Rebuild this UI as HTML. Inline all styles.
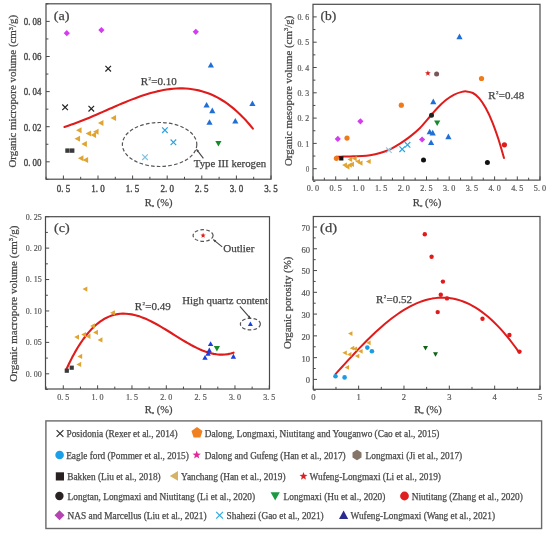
<!DOCTYPE html>
<html><head><meta charset="utf-8"><style>
html,body{margin:0;padding:0;background:#fff;}
svg{display:block;font-family:"Liberation Serif", "Times New Roman", serif;}
</style></head><body>
<svg width="550" height="535" viewBox="0 0 550 535">
<rect width="550" height="535" fill="#fff"/>
<rect x="46" y="3.8" width="225" height="175.4" fill="none" stroke="#4a4a4a" stroke-width="1.2"/>
<path d="M63.4 179.2V175.5M98 179.2V175.5M132.6 179.2V175.5M167.2 179.2V175.5M201.8 179.2V175.5M236.4 179.2V175.5M271 179.2V175.5M46.1 179.2V176.8M80.7 179.2V176.8M115.3 179.2V176.8M149.9 179.2V176.8M184.5 179.2V176.8M219.1 179.2V176.8M253.7 179.2V176.8" stroke="#4a4a4a" stroke-width="1"/>
<text x="63.4" y="191.8" font-size="9.4" text-anchor="middle" fill="#454545" stroke="#454545" stroke-width="0.35" textLength="13.5" lengthAdjust="spacingAndGlyphs">0. 5</text>
<text x="98" y="191.8" font-size="9.4" text-anchor="middle" fill="#454545" stroke="#454545" stroke-width="0.35" textLength="13.5" lengthAdjust="spacingAndGlyphs">1. 0</text>
<text x="132.6" y="191.8" font-size="9.4" text-anchor="middle" fill="#454545" stroke="#454545" stroke-width="0.35" textLength="13.5" lengthAdjust="spacingAndGlyphs">1. 5</text>
<text x="167.2" y="191.8" font-size="9.4" text-anchor="middle" fill="#454545" stroke="#454545" stroke-width="0.35" textLength="13.5" lengthAdjust="spacingAndGlyphs">2. 0</text>
<text x="201.8" y="191.8" font-size="9.4" text-anchor="middle" fill="#454545" stroke="#454545" stroke-width="0.35" textLength="13.5" lengthAdjust="spacingAndGlyphs">2. 5</text>
<text x="236.4" y="191.8" font-size="9.4" text-anchor="middle" fill="#454545" stroke="#454545" stroke-width="0.35" textLength="13.5" lengthAdjust="spacingAndGlyphs">3. 0</text>
<text x="271" y="191.8" font-size="9.4" text-anchor="middle" fill="#454545" stroke="#454545" stroke-width="0.35" textLength="13.5" lengthAdjust="spacingAndGlyphs">3. 5</text>
<path d="M46 161.8H49.7M46 126.7H49.7M46 91.6H49.7M46 56.5H49.7M46 21.4H49.7M46 144.25H48.4M46 109.15H48.4M46 74.05H48.4M46 38.95H48.4M46 3.85H48.4M46 179.35H48.4" stroke="#4a4a4a" stroke-width="1"/>
<text x="41.5" y="165.6" font-size="9.8" text-anchor="end" fill="#454545" stroke="#454545" stroke-width="0.35" textLength="17.8" lengthAdjust="spacingAndGlyphs">0. 00</text>
<text x="41.5" y="130.5" font-size="9.8" text-anchor="end" fill="#454545" stroke="#454545" stroke-width="0.35" textLength="17.8" lengthAdjust="spacingAndGlyphs">0. 02</text>
<text x="41.5" y="95.4" font-size="9.8" text-anchor="end" fill="#454545" stroke="#454545" stroke-width="0.35" textLength="17.8" lengthAdjust="spacingAndGlyphs">0. 04</text>
<text x="41.5" y="60.3" font-size="9.8" text-anchor="end" fill="#454545" stroke="#454545" stroke-width="0.35" textLength="17.8" lengthAdjust="spacingAndGlyphs">0. 06</text>
<text x="41.5" y="25.2" font-size="9.8" text-anchor="end" fill="#454545" stroke="#454545" stroke-width="0.35" textLength="17.8" lengthAdjust="spacingAndGlyphs">0. 08</text>
<text x="0" y="0" font-size="10.9" text-anchor="middle" fill="#444" stroke="#444" stroke-width="0.25" transform="translate(16.3 91.2) rotate(-90)">Organic micropore volume (cm<tspan font-size="60%" dy="-0.55em">3</tspan><tspan dy="0.33em">/g)</tspan></text>
<text x="158.6" y="206" font-size="10.5" text-anchor="middle" fill="#444" stroke="#444" stroke-width="0.25" >R<tspan font-size="45%" dy="0.3em">o</tspan><tspan dy="-0.135em"> (%)</tspan></text>
<text x="61.6" y="20" font-size="13.5" text-anchor="middle" fill="#444" stroke="#444" stroke-width="0.25" textLength="15.8" lengthAdjust="spacingAndGlyphs">(a)</text>
<polygon points="66.8,30.1 69.9,33.2 66.8,36.3 63.7,33.2" fill="#d43cf0"/>
<polygon points="101.4,27 104.5,30.1 101.4,33.2 98.3,30.1" fill="#d43cf0"/>
<polygon points="195.8,28.7 198.9,31.8 195.8,34.9 192.7,31.8" fill="#d43cf0"/>
<path d="M105.4 65.9L111 71.5M105.4 71.5L111 65.9" stroke="#222" stroke-width="1.15" fill="none"/>
<path d="M62.3 104.5L67.9 110.1M62.3 110.1L67.9 104.5" stroke="#222" stroke-width="1.15" fill="none"/>
<path d="M88.5 105.9L94.1 111.5M88.5 111.5L94.1 105.9" stroke="#222" stroke-width="1.15" fill="none"/>
<rect x="65.3" y="148.4" width="4.4" height="4.4" fill="#3a3a3a"/>
<rect x="70" y="148.4" width="4.4" height="4.4" fill="#3a3a3a"/>
<polygon points="76,130.2 81.55,127.2 81.55,133.2" fill="#e0a431"/>
<polygon points="85.6,133.5 91.15,130.5 91.15,136.5" fill="#e0a431"/>
<polygon points="90.5,135.1 96.05,132.1 96.05,138.1" fill="#e0a431"/>
<polygon points="93,131.8 98.55,128.8 98.55,134.8" fill="#e0a431"/>
<polygon points="97.9,123.1 103.45,120.1 103.45,126.1" fill="#e0a431"/>
<polygon points="110.5,117.9 116.05,114.9 116.05,120.9" fill="#e0a431"/>
<polygon points="74.5,138.7 80.05,135.7 80.05,141.7" fill="#e0a431"/>
<polygon points="81.3,144 86.85,141 86.85,147" fill="#e0a431"/>
<polygon points="77.9,158.2 83.45,155.2 83.45,161.2" fill="#e0a431"/>
<polygon points="82.6,159.9 88.15,156.9 88.15,162.9" fill="#e0a431"/>
<ellipse cx="159.6" cy="144.5" rx="37.2" ry="22" fill="none" stroke="#555" stroke-width="1.2" stroke-dasharray="3.6 2.2"/>
<path d="M162.1 127.4L167.7 133M162.1 133L167.7 127.4" stroke="#2aa3df" stroke-width="1.15" fill="none"/>
<path d="M170.6 139.5L176.2 145.1M170.6 145.1L176.2 139.5" stroke="#2aa3df" stroke-width="1.15" fill="none"/>
<path d="M142.2 154.4L147.8 160M142.2 160L147.8 154.4" stroke="#7fc0e4" stroke-width="1.15" fill="none"/>
<polygon points="210.9,61.9 214,67.48 207.8,67.48" fill="#1f6fd6"/>
<polygon points="206.6,102 209.7,107.58 203.5,107.58" fill="#1f6fd6"/>
<polygon points="212.3,107.6 215.4,113.18 209.2,113.18" fill="#1f6fd6"/>
<polygon points="209.5,119.2 212.6,124.78 206.4,124.78" fill="#1f6fd6"/>
<polygon points="235.3,117.9 238.4,123.48 232.2,123.48" fill="#1f6fd6"/>
<polygon points="252.4,100.4 255.5,105.98 249.3,105.98" fill="#1f6fd6"/>
<polygon points="218.4,146.6 221.5,141.02 215.3,141.02" fill="#178a2a"/>
<path d="M64.4 126.92 L67.59 125.92 L70.79 124.85 L73.98 123.72 L77.18 122.55 L80.37 121.32 L83.57 120.06 L86.76 118.76 L89.96 117.43 L93.15 116.07 L96.35 114.69 L99.54 113.3 L102.74 111.89 L105.93 110.49 L109.13 109.08 L112.32 107.67 L115.52 106.28 L118.71 104.9 L121.91 103.54 L125.1 102.21 L128.3 100.9 L131.49 99.64 L134.69 98.41 L137.88 97.23 L141.08 96.1 L144.27 95.03 L147.47 94.02 L150.66 93.07 L153.86 92.2 L157.05 91.4 L160.25 90.69 L163.44 90.06 L166.64 89.53 L169.83 89.09 L173.03 88.75 L176.22 88.52 L179.42 88.41 L182.61 88.41 L185.81 88.53 L189 88.79 L192.2 89.17 L195.39 89.7 L198.59 90.37 L201.78 91.18 L204.98 92.15 L208.17 93.28 L211.37 94.57 L214.56 96.04 L217.76 97.67 L220.95 99.49 L224.15 101.49 L227.34 103.68 L230.54 106.06 L233.73 108.64 L236.93 111.43 L240.12 114.43 L243.32 117.64 L246.51 121.08 L249.71 124.74 L252.9 128.63" stroke="#e01b1b" stroke-width="2.1" fill="none" stroke-linecap="round" stroke-linejoin="round"/>
<text x="158.65" y="84.7" font-size="11" text-anchor="middle" fill="#444" stroke="#444" stroke-width="0.25" >R<tspan font-size="45%" dy="-0.95em" dx="0.4">2</tspan><tspan dy="0.43em" dx="0.3">=</tspan>0.10</text>
<path d="M203.4 158.4L196.5 149.3" stroke="#444" stroke-width="1.1" fill="none"/>
<polygon points="196.5,149.3 199.17,150.66 197.09,152.24" fill="#444"/>
<text x="230" y="166.6" font-size="10.8" text-anchor="middle" fill="#444" stroke="#444" stroke-width="0.25" >Type III kerogen</text>
<rect x="313" y="4.3" width="227" height="175.8" fill="none" stroke="#4a4a4a" stroke-width="1.2"/>
<path d="M313 180.1V176.4M335.7 180.1V176.4M358.4 180.1V176.4M381.1 180.1V176.4M403.8 180.1V176.4M426.5 180.1V176.4M449.2 180.1V176.4M471.9 180.1V176.4M494.6 180.1V176.4M517.3 180.1V176.4M540 180.1V176.4M324.35 180.1V177.7M347.05 180.1V177.7M369.75 180.1V177.7M392.45 180.1V177.7M415.15 180.1V177.7M437.85 180.1V177.7M460.55 180.1V177.7M483.25 180.1V177.7M505.95 180.1V177.7M528.65 180.1V177.7" stroke="#4a4a4a" stroke-width="1"/>
<text x="313" y="191.3" font-size="7.8" text-anchor="middle" fill="#5a5a5a" stroke="#5a5a5a" stroke-width="0.2" textLength="12.3" lengthAdjust="spacingAndGlyphs">0. 0</text>
<text x="335.7" y="191.3" font-size="7.8" text-anchor="middle" fill="#5a5a5a" stroke="#5a5a5a" stroke-width="0.2" textLength="12.3" lengthAdjust="spacingAndGlyphs">0. 5</text>
<text x="358.4" y="191.3" font-size="7.8" text-anchor="middle" fill="#5a5a5a" stroke="#5a5a5a" stroke-width="0.2" textLength="12.3" lengthAdjust="spacingAndGlyphs">1. 0</text>
<text x="381.1" y="191.3" font-size="7.8" text-anchor="middle" fill="#5a5a5a" stroke="#5a5a5a" stroke-width="0.2" textLength="12.3" lengthAdjust="spacingAndGlyphs">1. 5</text>
<text x="403.8" y="191.3" font-size="7.8" text-anchor="middle" fill="#5a5a5a" stroke="#5a5a5a" stroke-width="0.2" textLength="12.3" lengthAdjust="spacingAndGlyphs">2. 0</text>
<text x="426.5" y="191.3" font-size="7.8" text-anchor="middle" fill="#5a5a5a" stroke="#5a5a5a" stroke-width="0.2" textLength="12.3" lengthAdjust="spacingAndGlyphs">2. 5</text>
<text x="449.2" y="191.3" font-size="7.8" text-anchor="middle" fill="#5a5a5a" stroke="#5a5a5a" stroke-width="0.2" textLength="12.3" lengthAdjust="spacingAndGlyphs">3. 0</text>
<text x="471.9" y="191.3" font-size="7.8" text-anchor="middle" fill="#5a5a5a" stroke="#5a5a5a" stroke-width="0.2" textLength="12.3" lengthAdjust="spacingAndGlyphs">3. 5</text>
<text x="494.6" y="191.3" font-size="7.8" text-anchor="middle" fill="#5a5a5a" stroke="#5a5a5a" stroke-width="0.2" textLength="12.3" lengthAdjust="spacingAndGlyphs">4. 0</text>
<text x="517.3" y="191.3" font-size="7.8" text-anchor="middle" fill="#5a5a5a" stroke="#5a5a5a" stroke-width="0.2" textLength="12.3" lengthAdjust="spacingAndGlyphs">4. 5</text>
<text x="540" y="191.3" font-size="7.8" text-anchor="middle" fill="#5a5a5a" stroke="#5a5a5a" stroke-width="0.2" textLength="12.3" lengthAdjust="spacingAndGlyphs">5. 0</text>
<path d="M313 168.7H316.7M313 143.4H316.7M313 118.1H316.7M313 92.8H316.7M313 67.5H316.7M313 42.2H316.7M313 16.9H316.7M313 156.05H315.4M313 130.75H315.4M313 105.45H315.4M313 80.15H315.4M313 54.85H315.4M313 29.55H315.4M313 181.35H315.4" stroke="#4a4a4a" stroke-width="1"/>
<text x="309.2" y="171.9" font-size="7.8" text-anchor="end" fill="#5a5a5a" stroke="#5a5a5a" stroke-width="0.2" textLength="3.28" lengthAdjust="spacingAndGlyphs">0</text>
<text x="309.2" y="146.6" font-size="7.8" text-anchor="end" fill="#5a5a5a" stroke="#5a5a5a" stroke-width="0.2" textLength="11.8" lengthAdjust="spacingAndGlyphs">0. 1</text>
<text x="309.2" y="121.3" font-size="7.8" text-anchor="end" fill="#5a5a5a" stroke="#5a5a5a" stroke-width="0.2" textLength="11.8" lengthAdjust="spacingAndGlyphs">0. 2</text>
<text x="309.2" y="96" font-size="7.8" text-anchor="end" fill="#5a5a5a" stroke="#5a5a5a" stroke-width="0.2" textLength="11.8" lengthAdjust="spacingAndGlyphs">0. 3</text>
<text x="309.2" y="70.7" font-size="7.8" text-anchor="end" fill="#5a5a5a" stroke="#5a5a5a" stroke-width="0.2" textLength="11.8" lengthAdjust="spacingAndGlyphs">0. 4</text>
<text x="309.2" y="45.4" font-size="7.8" text-anchor="end" fill="#5a5a5a" stroke="#5a5a5a" stroke-width="0.2" textLength="11.8" lengthAdjust="spacingAndGlyphs">0. 5</text>
<text x="309.2" y="20.1" font-size="7.8" text-anchor="end" fill="#5a5a5a" stroke="#5a5a5a" stroke-width="0.2" textLength="11.8" lengthAdjust="spacingAndGlyphs">0. 6</text>
<text x="0" y="0" font-size="10.9" text-anchor="middle" fill="#444" stroke="#444" stroke-width="0.25" transform="translate(291.6 90.9) rotate(-90)">Organic mesopore volume (cm<tspan font-size="60%" dy="-0.55em">3</tspan><tspan dy="0.33em">/g)</tspan></text>
<text x="427" y="206" font-size="10.8" text-anchor="middle" fill="#444" stroke="#444" stroke-width="0.25" >R<tspan font-size="45%" dy="0.3em">o</tspan><tspan dy="-0.135em"> (%)</tspan></text>
<text x="328.4" y="19.5" font-size="13.5" text-anchor="middle" fill="#444" stroke="#444" stroke-width="0.25" textLength="15.8" lengthAdjust="spacingAndGlyphs">(b)</text>
<path d="M336.3 156.8 C337.42 156.77 340.72 156.67 343 156.6 C345.28 156.53 346.83 156.48 350 156.4 C353.17 156.32 358.67 156.28 362 156.1 C365.33 155.92 367 155.82 370 155.3 C373 154.78 376.67 154 380 153 C383.33 152 386.67 150.87 390 149.3 C393.33 147.73 396.67 145.72 400 143.6 C403.33 141.48 406.67 139.2 410 136.6 C413.33 134 416.67 131.35 420 128 C423.33 124.65 427.02 119.92 430 116.5 C432.98 113.08 435.25 110.25 437.9 107.5 C440.55 104.75 443.25 102.12 445.9 100 C448.55 97.88 451.15 96.15 453.8 94.8 C456.45 93.45 459.68 92.47 461.8 91.9 C463.92 91.33 464.65 91.22 466.5 91.4 C468.35 91.58 470.77 91.85 472.9 93 C475.03 94.15 477.18 95.83 479.3 98.3 C481.42 100.77 483.48 103.97 485.6 107.8 C487.72 111.63 489.88 116.13 492 121.3 C494.12 126.47 496.3 132.68 498.3 138.8 C500.3 144.92 503.05 154.8 504 158" stroke="#e01b1b" stroke-width="2" fill="none" stroke-linecap="round" stroke-linejoin="round"/>
<polygon points="337.8,135.8 340.9,138.9 337.8,142 334.7,138.9" fill="#d43cf0"/>
<circle cx="347" cy="138.1" r="2.6" fill="#f07a1a"/>
<polygon points="360.4,118.2 363.5,121.3 360.4,124.4 357.3,121.3" fill="#d43cf0"/>
<polygon points="347.4,159.4 352.21,156.8 352.21,162" fill="#e0a431"/>
<polygon points="351.9,158.6 356.71,156 356.71,161.2" fill="#e0a431"/>
<polygon points="355.2,161.5 360.01,158.9 360.01,164.1" fill="#e0a431"/>
<polygon points="357.7,163.1 362.51,160.5 362.51,165.7" fill="#e0a431"/>
<polygon points="342.1,165.1 346.91,162.5 346.91,167.7" fill="#e0a431"/>
<polygon points="344.6,166.8 349.41,164.2 349.41,169.4" fill="#e0a431"/>
<polygon points="347,165.1 351.81,162.5 351.81,167.7" fill="#e0a431"/>
<polygon points="349.1,164.3 353.91,161.7 353.91,166.9" fill="#e0a431"/>
<polygon points="365.9,161.5 370.71,158.9 370.71,164.1" fill="#e0a431"/>
<circle cx="336.4" cy="158.3" r="2.6" fill="#f07a1a"/>
<rect x="339.2" y="156.3" width="4.2" height="4.2" fill="#111"/>
<circle cx="401.3" cy="105.2" r="2.6" fill="#f07a1a"/>
<polygon points="433.3,98.6 436.4,104.18 430.2,104.18" fill="#1f6fd6"/>
<circle cx="431.5" cy="115.2" r="2.5" fill="#222"/>
<polygon points="437.2,126.1 440.3,120.52 434.1,120.52" fill="#178a2a"/>
<polygon points="429.7,128.7 432.8,134.28 426.6,134.28" fill="#1f6fd6"/>
<polygon points="432.7,129.8 435.8,135.38 429.6,135.38" fill="#1f6fd6"/>
<polygon points="448.4,133.6 451.5,139.18 445.3,139.18" fill="#1f6fd6"/>
<polygon points="431.1,139.4 434.2,144.98 428,144.98" fill="#1f6fd6"/>
<polygon points="459.5,33.6 462.6,39.18 456.4,39.18" fill="#1f6fd6"/>
<polygon points="422.1,136.4 425.2,139.5 422.1,142.6 419,139.5" fill="#d43cf0"/>
<path d="M399.4 146.4L405 152M399.4 152L405 146.4" stroke="#2aa3df" stroke-width="1.15" fill="none"/>
<path d="M404.7 142L410.3 147.6M404.7 147.6L410.3 142" stroke="#2aa3df" stroke-width="1.15" fill="none"/>
<path d="M386.1 147.3L391.7 152.9M386.1 152.9L391.7 147.3" stroke="#8ccbe8" stroke-width="1.15" fill="none"/>
<circle cx="423.5" cy="159.9" r="2.5" fill="#111"/>
<polygon points="427.9,70.3 428.64,72.28 430.75,72.37 429.1,73.69 429.66,75.73 427.9,74.56 426.14,75.73 426.7,73.69 425.05,72.37 427.16,72.28" fill="#e01b1b"/>
<circle cx="436.6" cy="74.1" r="2.5" fill="#7a5656"/>
<circle cx="481.5" cy="78.5" r="2.6" fill="#f07a1a"/>
<circle cx="504.4" cy="144.8" r="2.6" fill="#e01b1b"/>
<circle cx="487.4" cy="162.6" r="2.5" fill="#111"/>
<text x="506.25" y="98.7" font-size="11" text-anchor="middle" fill="#444" stroke="#444" stroke-width="0.25" >R<tspan font-size="45%" dy="-0.95em" dx="0.4">2</tspan><tspan dy="0.43em" dx="0.3">=</tspan>0.48</text>
<rect x="45.5" y="216.7" width="224" height="172.3" fill="none" stroke="#4a4a4a" stroke-width="1.2"/>
<path d="M63.29 389V385.3M97.62 389V385.3M131.96 389V385.3M166.3 389V385.3M200.63 389V385.3M234.97 389V385.3M269.3 389V385.3M46.12 389V386.6M80.46 389V386.6M114.79 389V386.6M149.13 389V386.6M183.46 389V386.6M217.8 389V386.6M252.13 389V386.6" stroke="#4a4a4a" stroke-width="1"/>
<text x="63.29" y="400.3" font-size="7.8" text-anchor="middle" fill="#5a5a5a" stroke="#5a5a5a" stroke-width="0.2" textLength="12.1" lengthAdjust="spacingAndGlyphs">0. 5</text>
<text x="97.62" y="400.3" font-size="7.8" text-anchor="middle" fill="#5a5a5a" stroke="#5a5a5a" stroke-width="0.2" textLength="12.1" lengthAdjust="spacingAndGlyphs">1. 0</text>
<text x="131.96" y="400.3" font-size="7.8" text-anchor="middle" fill="#5a5a5a" stroke="#5a5a5a" stroke-width="0.2" textLength="12.1" lengthAdjust="spacingAndGlyphs">1. 5</text>
<text x="166.3" y="400.3" font-size="7.8" text-anchor="middle" fill="#5a5a5a" stroke="#5a5a5a" stroke-width="0.2" textLength="12.1" lengthAdjust="spacingAndGlyphs">2. 0</text>
<text x="200.63" y="400.3" font-size="7.8" text-anchor="middle" fill="#5a5a5a" stroke="#5a5a5a" stroke-width="0.2" textLength="12.1" lengthAdjust="spacingAndGlyphs">2. 5</text>
<text x="234.97" y="400.3" font-size="7.8" text-anchor="middle" fill="#5a5a5a" stroke="#5a5a5a" stroke-width="0.2" textLength="12.1" lengthAdjust="spacingAndGlyphs">3. 0</text>
<text x="269.3" y="400.3" font-size="7.8" text-anchor="middle" fill="#5a5a5a" stroke="#5a5a5a" stroke-width="0.2" textLength="12.1" lengthAdjust="spacingAndGlyphs">3. 5</text>
<path d="M45.5 373.8H49.2M45.5 342.38H49.2M45.5 310.96H49.2M45.5 279.54H49.2M45.5 248.12H49.2M45.5 216.7H49.2M45.5 358.09H47.9M45.5 326.67H47.9M45.5 295.25H47.9M45.5 263.83H47.9M45.5 232.41H47.9M45.5 389.51H47.9" stroke="#4a4a4a" stroke-width="1"/>
<text x="41.8" y="376.6" font-size="7.8" text-anchor="end" fill="#5a5a5a" stroke="#5a5a5a" stroke-width="0.2" textLength="16" lengthAdjust="spacingAndGlyphs">0. 00</text>
<text x="41.8" y="345.18" font-size="7.8" text-anchor="end" fill="#5a5a5a" stroke="#5a5a5a" stroke-width="0.2" textLength="16" lengthAdjust="spacingAndGlyphs">0. 05</text>
<text x="41.8" y="313.76" font-size="7.8" text-anchor="end" fill="#5a5a5a" stroke="#5a5a5a" stroke-width="0.2" textLength="16" lengthAdjust="spacingAndGlyphs">0. 10</text>
<text x="41.8" y="282.34" font-size="7.8" text-anchor="end" fill="#5a5a5a" stroke="#5a5a5a" stroke-width="0.2" textLength="16" lengthAdjust="spacingAndGlyphs">0. 15</text>
<text x="41.8" y="250.92" font-size="7.8" text-anchor="end" fill="#5a5a5a" stroke="#5a5a5a" stroke-width="0.2" textLength="16" lengthAdjust="spacingAndGlyphs">0. 20</text>
<text x="41.8" y="219.5" font-size="7.8" text-anchor="end" fill="#5a5a5a" stroke="#5a5a5a" stroke-width="0.2" textLength="16" lengthAdjust="spacingAndGlyphs">0. 25</text>
<text x="0" y="0" font-size="11" text-anchor="middle" fill="#444" stroke="#444" stroke-width="0.25" transform="translate(16.5 303.7) rotate(-90)">Organic macropore volume (cm<tspan font-size="60%" dy="-0.55em">3</tspan><tspan dy="0.33em">/g)</tspan></text>
<text x="158.6" y="412.6" font-size="10.5" text-anchor="middle" fill="#444" stroke="#444" stroke-width="0.25" >R<tspan font-size="45%" dy="0.3em">o</tspan><tspan dy="-0.135em"> (%)</tspan></text>
<text x="61.8" y="231.6" font-size="13.5" text-anchor="middle" fill="#444" stroke="#444" stroke-width="0.25" textLength="15.6" lengthAdjust="spacingAndGlyphs">(c)</text>
<path d="M66.4 369.2 L69.23 363.2 L72.07 357.6 L74.9 352.39 L77.74 347.56 L80.57 343.1 L83.4 339 L86.24 335.25 L89.07 331.84 L91.91 328.76 L94.74 326 L97.57 323.54 L100.41 321.39 L103.24 319.52 L106.07 317.93 L108.91 316.61 L111.74 315.55 L114.58 314.73 L117.41 314.14 L120.24 313.78 L123.08 313.64 L125.91 313.69 L128.75 313.94 L131.58 314.37 L134.41 314.96 L137.25 315.72 L140.08 316.62 L142.92 317.66 L145.75 318.82 L148.58 320.1 L151.42 321.48 L154.25 322.95 L157.08 324.49 L159.92 326.11 L162.75 327.78 L165.59 329.5 L168.42 331.24 L171.25 333.01 L174.09 334.79 L176.92 336.57 L179.76 338.33 L182.59 340.06 L185.42 341.75 L188.26 343.4 L191.09 344.98 L193.93 346.48 L196.76 347.9 L199.59 349.21 L202.43 350.42 L205.26 351.5 L208.09 352.44 L210.93 353.23 L213.76 353.86 L216.6 354.32 L219.43 354.58 L222.26 354.65 L225.1 354.5 L227.93 354.13 L230.77 353.52 L233.6 352.66" stroke="#e01b1b" stroke-width="2.1" fill="none" stroke-linecap="round" stroke-linejoin="round"/>
<polygon points="82.5,289.1 87.31,286.5 87.31,291.7" fill="#e0a431"/>
<polygon points="110.1,312.8 114.91,310.2 114.91,315.4" fill="#e0a431"/>
<polygon points="90.1,325.9 94.91,323.3 94.91,328.5" fill="#e0a431"/>
<polygon points="74.2,337.1 79.01,334.5 79.01,339.7" fill="#e0a431"/>
<polygon points="81.2,334.6 86.01,332 86.01,337.2" fill="#e0a431"/>
<polygon points="85.6,336.3 90.41,333.7 90.41,338.9" fill="#e0a431"/>
<polygon points="93.1,332.4 97.91,329.8 97.91,335" fill="#e0a431"/>
<polygon points="97.6,339.9 102.41,337.3 102.41,342.5" fill="#e0a431"/>
<polygon points="77.4,356.4 82.21,353.8 82.21,359" fill="#e0a431"/>
<polygon points="76.4,364.4 81.21,361.8 81.21,367" fill="#e0a431"/>
<rect x="64.7" y="368.6" width="4.2" height="4.2" fill="#3a3a3a"/>
<rect x="69.6" y="365.6" width="4.2" height="4.2" fill="#3a3a3a"/>
<polygon points="210.6,341.2 213.3,346.06 207.9,346.06" fill="#1b3fe0"/>
<polygon points="209.3,347.6 212,352.46 206.6,352.46" fill="#1b3fe0"/>
<polygon points="208,350.9 210.7,355.76 205.3,355.76" fill="#1b3fe0"/>
<polygon points="205,355 207.7,359.86 202.3,359.86" fill="#1b3fe0"/>
<polygon points="233.4,353.8 236.1,358.66 230.7,358.66" fill="#1b3fe0"/>
<polygon points="216.9,351.6 220,346.02 213.8,346.02" fill="#178a2a"/>
<ellipse cx="250.4" cy="324.1" rx="10" ry="5.8" fill="none" stroke="#555" stroke-width="1.2" stroke-dasharray="3.6 2.2"/>
<polygon points="250.4,321.6 252.9,326.1 247.9,326.1" fill="#1b3fe0"/>
<path d="M239.9 306.3L250.4 318.3" stroke="#444" stroke-width="1.1" fill="none"/>
<polygon points="250.4,318.3 247.64,317.13 249.6,315.41" fill="#444"/>
<text x="225.1" y="303.6" font-size="10.8" text-anchor="middle" fill="#444" stroke="#444" stroke-width="0.25" >High quartz content</text>
<text x="152.75" y="309.9" font-size="11" text-anchor="middle" fill="#444" stroke="#444" stroke-width="0.25" >R<tspan font-size="45%" dy="-0.95em" dx="0.4">2</tspan><tspan dy="0.43em" dx="0.3">=</tspan>0.49</text>
<ellipse cx="203.1" cy="235.5" rx="10" ry="5.8" fill="none" stroke="#555" stroke-width="1.2" stroke-dasharray="3.6 2.2"/>
<polygon points="203.1,232.7 203.79,234.55 205.76,234.63 204.22,235.86 204.75,237.77 203.1,236.68 201.45,237.77 201.98,235.86 200.44,234.63 202.41,234.55" fill="#e01b1b"/>
<path d="M222.2 246.9L213.3 239.6" stroke="#444" stroke-width="1.1" fill="none"/>
<polygon points="213.3,239.6 216.22,240.3 214.56,242.32" fill="#444"/>
<text x="238.8" y="252" font-size="11" text-anchor="middle" fill="#444" stroke="#444" stroke-width="0.25" >Outlier</text>
<rect x="313.3" y="216.5" width="226.7" height="172.8" fill="none" stroke="#4a4a4a" stroke-width="1.2"/>
<path d="M313.3 389.3V385.6M358.64 389.3V385.6M403.98 389.3V385.6M449.32 389.3V385.6M494.66 389.3V385.6M540 389.3V385.6M335.97 389.3V386.9M381.31 389.3V386.9M426.65 389.3V386.9M471.99 389.3V386.9M517.33 389.3V386.9" stroke="#4a4a4a" stroke-width="1"/>
<text x="313.3" y="400.3" font-size="8.5" text-anchor="middle" fill="#5a5a5a" stroke="#5a5a5a" stroke-width="0.2" >0</text>
<text x="358.64" y="400.3" font-size="8.5" text-anchor="middle" fill="#5a5a5a" stroke="#5a5a5a" stroke-width="0.2" >1</text>
<text x="403.98" y="400.3" font-size="8.5" text-anchor="middle" fill="#5a5a5a" stroke="#5a5a5a" stroke-width="0.2" >2</text>
<text x="449.32" y="400.3" font-size="8.5" text-anchor="middle" fill="#5a5a5a" stroke="#5a5a5a" stroke-width="0.2" >3</text>
<text x="494.66" y="400.3" font-size="8.5" text-anchor="middle" fill="#5a5a5a" stroke="#5a5a5a" stroke-width="0.2" >4</text>
<text x="540" y="400.3" font-size="8.5" text-anchor="middle" fill="#5a5a5a" stroke="#5a5a5a" stroke-width="0.2" >5</text>
<path d="M313.3 379.4H317M313.3 357.63H317M313.3 335.86H317M313.3 314.09H317M313.3 292.32H317M313.3 270.55H317M313.3 248.78H317M313.3 227.01H317M313.3 368.51H315.7M313.3 346.75H315.7M313.3 324.97H315.7M313.3 303.2H315.7M313.3 281.43H315.7M313.3 259.66H315.7M313.3 237.89H315.7M313.3 390.28H315.7" stroke="#4a4a4a" stroke-width="1"/>
<text x="310" y="383.3" font-size="8.6" text-anchor="end" fill="#555" stroke="#555" stroke-width="0.2" >0</text>
<text x="310" y="361.53" font-size="8.6" text-anchor="end" fill="#555" stroke="#555" stroke-width="0.2" >10</text>
<text x="310" y="339.76" font-size="8.6" text-anchor="end" fill="#555" stroke="#555" stroke-width="0.2" >20</text>
<text x="310" y="317.99" font-size="8.6" text-anchor="end" fill="#555" stroke="#555" stroke-width="0.2" >30</text>
<text x="310" y="296.22" font-size="8.6" text-anchor="end" fill="#555" stroke="#555" stroke-width="0.2" >40</text>
<text x="310" y="274.45" font-size="8.6" text-anchor="end" fill="#555" stroke="#555" stroke-width="0.2" >50</text>
<text x="310" y="252.68" font-size="8.6" text-anchor="end" fill="#555" stroke="#555" stroke-width="0.2" >60</text>
<text x="310" y="230.91" font-size="8.6" text-anchor="end" fill="#555" stroke="#555" stroke-width="0.2" >70</text>
<text x="0" y="0" font-size="10.9" text-anchor="middle" fill="#444" stroke="#444" stroke-width="0.25" transform="translate(291 302.8) rotate(-90)">Organic porosity (%)</text>
<text x="428" y="412.6" font-size="10.5" text-anchor="middle" fill="#444" stroke="#444" stroke-width="0.25" >R<tspan font-size="45%" dy="0.3em">o</tspan><tspan dy="-0.135em"> (%)</tspan></text>
<text x="328.6" y="231.5" font-size="13.5" text-anchor="middle" fill="#444" stroke="#444" stroke-width="0.25" textLength="17" lengthAdjust="spacingAndGlyphs">(d)</text>
<path d="M335.5 374.13 L338.61 370.7 L341.73 367.27 L344.84 363.85 L347.95 360.45 L351.07 357.07 L354.18 353.73 L357.29 350.43 L360.41 347.17 L363.52 343.96 L366.64 340.82 L369.75 337.74 L372.86 334.73 L375.98 331.81 L379.09 328.97 L382.2 326.22 L385.32 323.56 L388.43 321.01 L391.54 318.56 L394.66 316.23 L397.77 314.01 L400.88 311.92 L404 309.95 L407.11 308.11 L410.23 306.41 L413.34 304.85 L416.45 303.43 L419.57 302.16 L422.68 301.03 L425.79 300.07 L428.91 299.26 L432.02 298.61 L435.13 298.12 L438.25 297.8 L441.36 297.65 L444.47 297.66 L447.59 297.86 L450.7 298.22 L453.82 298.77 L456.93 299.49 L460.04 300.39 L463.16 301.48 L466.27 302.74 L469.38 304.2 L472.5 305.83 L475.61 307.65 L478.72 309.66 L481.84 311.86 L484.95 314.24 L488.06 316.8 L491.18 319.56 L494.29 322.5 L497.41 325.62 L500.52 328.93 L503.63 332.42 L506.75 336.1 L509.86 339.96 L512.97 343.99 L516.09 348.21 L519.2 352.61" stroke="#e01b1b" stroke-width="2" fill="none" stroke-linecap="round" stroke-linejoin="round"/>
<polygon points="348,333.6 352.44,331.2 352.44,336" fill="#e0a431"/>
<polygon points="349.8,348.2 354.24,345.8 354.24,350.6" fill="#e0a431"/>
<polygon points="352.7,348.8 357.14,346.4 357.14,351.2" fill="#e0a431"/>
<polygon points="342.4,352.8 346.84,350.4 346.84,355.2" fill="#e0a431"/>
<polygon points="347,354.4 351.44,352 351.44,356.8" fill="#e0a431"/>
<polygon points="354.9,356.1 359.34,353.7 359.34,358.5" fill="#e0a431"/>
<polygon points="358.2,351.3 362.64,348.9 362.64,353.7" fill="#e0a431"/>
<polygon points="366.2,342.8 370.64,340.4 370.64,345.2" fill="#e0a431"/>
<polygon points="344.6,367.4 349.04,365 349.04,369.8" fill="#e0a431"/>
<circle cx="335.5" cy="376.2" r="2.3" fill="#1a9de6"/>
<circle cx="344.6" cy="377.4" r="2.3" fill="#1a9de6"/>
<circle cx="367.3" cy="347.6" r="2.3" fill="#1a9de6"/>
<circle cx="371.9" cy="351.2" r="2.3" fill="#1a9de6"/>
<circle cx="424.8" cy="234.2" r="2.2" fill="#e01b1b"/>
<circle cx="431.6" cy="256.7" r="2.2" fill="#e01b1b"/>
<circle cx="442.9" cy="281.6" r="2.2" fill="#e01b1b"/>
<circle cx="440.8" cy="294.7" r="2.2" fill="#e01b1b"/>
<circle cx="447" cy="298.4" r="2.2" fill="#e01b1b"/>
<circle cx="437.7" cy="312.1" r="2.2" fill="#e01b1b"/>
<circle cx="482.5" cy="318.7" r="2.2" fill="#e01b1b"/>
<circle cx="509.4" cy="335" r="2.2" fill="#e01b1b"/>
<circle cx="519.5" cy="351.6" r="2.2" fill="#e01b1b"/>
<polygon points="425.5,350.4 428,345.9 423,345.9" fill="#0d6414"/>
<polygon points="435.5,356.7 438,352.2 433,352.2" fill="#0d6414"/>
<text x="393.9" y="302.6" font-size="11" text-anchor="middle" fill="#444" stroke="#444" stroke-width="0.25" >R<tspan font-size="45%" dy="-0.95em" dx="0.4">2</tspan><tspan dy="0.43em" dx="0.3">=</tspan>0.52</text>
<rect x="45.9" y="420.9" width="495.7" height="107.6" fill="none" stroke="#6a6a6a" stroke-width="1.4"/>
<path d="M56.6 430.1L63.4 436.9M56.6 436.9L63.4 430.1" stroke="#333" stroke-width="1.2" fill="none"/>
<text x="66.5" y="437.3" font-size="9.3" text-anchor="start" fill="#4a4a4a" stroke="#4a4a4a" stroke-width="0.25" >Posidonia (Rexer et al., 2014)</text>
<circle cx="59.6" cy="455" r="4.3" fill="#1a9fe8"/>
<text x="66.2" y="458.8" font-size="9.3" text-anchor="start" fill="#4a4a4a" stroke="#4a4a4a" stroke-width="0.25" >Eagle ford (Pommer et al., 2015)</text>
<rect x="55.8" y="472.3" width="8.2" height="8.2" fill="#2a2222"/>
<text x="67.2" y="480.1" font-size="9.3" text-anchor="start" fill="#4a4a4a" stroke="#4a4a4a" stroke-width="0.25" >Bakken (Liu et al., 2018)</text>
<circle cx="59.4" cy="496" r="4.2" fill="#2a2222"/>
<text x="67.6" y="499.8" font-size="9.3" text-anchor="start" fill="#4a4a4a" stroke="#4a4a4a" stroke-width="0.25" >Longtan, Longmaxi and Niutitang (Li et al., 2020)</text>
<polygon points="59.5,510.2 64.5,515.2 59.5,520.2 54.5,515.2" fill="#b444b0"/>
<text x="67.6" y="519" font-size="9.3" text-anchor="start" fill="#4a4a4a" stroke="#4a4a4a" stroke-width="0.25" >NAS and Marcellus (Liu et al., 2021)</text>
<polygon points="197,427.1 202.52,431.11 200.41,437.59 193.59,437.59 191.48,431.11" fill="#f08020"/>
<text x="204.7" y="437.3" font-size="9.3" text-anchor="start" fill="#4a4a4a" stroke="#4a4a4a" stroke-width="0.25" >Dalong, Longmaxi, Niutitang and Youganwo (Cao et al., 2015)</text>
<polygon points="196.7,450.6 197.79,453.5 200.88,453.64 198.46,455.57 199.29,458.56 196.7,456.85 194.11,458.56 194.94,455.57 192.52,453.64 195.61,453.5" fill="#e0289a"/>
<text x="204.7" y="458.8" font-size="9.3" text-anchor="start" fill="#4a4a4a" stroke="#4a4a4a" stroke-width="0.25" >Dalong and Gufeng (Han et al., 2017)</text>
<polygon points="169.8,475.9 178,471 178,480.8" fill="#d6b264"/>
<text x="181.1" y="480.1" font-size="9.3" text-anchor="start" fill="#4a4a4a" stroke="#4a4a4a" stroke-width="0.25" >Yanchang (Han et al., 2019)</text>
<polygon points="275.2,500.6 279.8,492.32 270.6,492.32" fill="#1a9a40"/>
<text x="283.6" y="499.8" font-size="9.3" text-anchor="start" fill="#4a4a4a" stroke="#4a4a4a" stroke-width="0.25" >Longmaxi (Hu et al., 2020)</text>
<path d="M216.2 511.8L223 518.6M216.2 518.6L223 511.8" stroke="#30a8e0" stroke-width="1.2" fill="none"/>
<text x="226.6" y="519" font-size="9.3" text-anchor="start" fill="#4a4a4a" stroke="#4a4a4a" stroke-width="0.25" >Shahezi (Gao et al., 2021)</text>
<polygon points="357,449.8 361.5,452.4 361.5,457.6 357,460.2 352.5,457.6 352.5,452.4" fill="#857468"/>
<text x="365.6" y="458.8" font-size="9.3" text-anchor="start" fill="#4a4a4a" stroke="#4a4a4a" stroke-width="0.25" >Longmaxi (Ji et al., 2017)</text>
<polygon points="303.5,472.1 304.54,474.87 307.49,475 305.18,476.85 305.97,479.7 303.5,478.06 301.03,479.7 301.82,476.85 299.51,475 302.46,474.87" fill="#e02020"/>
<text x="309.6" y="480.1" font-size="9.3" text-anchor="start" fill="#4a4a4a" stroke="#4a4a4a" stroke-width="0.25" >Wufeng-Longmaxi (Li et al., 2019)</text>
<circle cx="404.5" cy="496" r="4.4" fill="#e02020"/>
<text x="411.8" y="499.8" font-size="9.3" text-anchor="start" fill="#4a4a4a" stroke="#4a4a4a" stroke-width="0.25" >Niutitang (Zhang et al., 2020)</text>
<polygon points="343.6,510.6 348.2,518.88 339,518.88" fill="#2a2a90"/>
<text x="350.5" y="519" font-size="9.3" text-anchor="start" fill="#4a4a4a" stroke="#4a4a4a" stroke-width="0.25" >Wufeng-Longmaxi (Wang et al., 2021)</text>
</svg>
</body></html>
